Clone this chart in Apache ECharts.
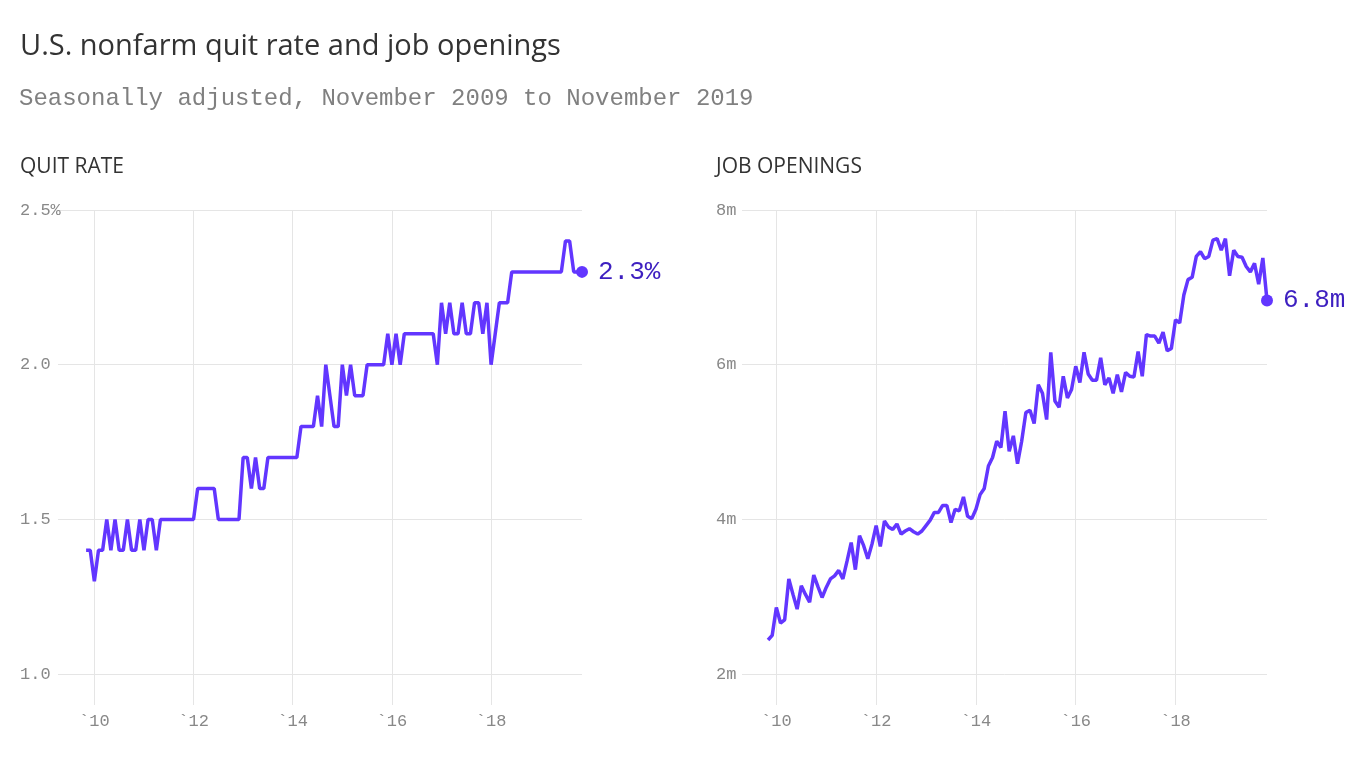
<!DOCTYPE html>
<html>
<head>
<meta charset="utf-8">
<script src="https://cdn.jsdelivr.net/npm/echarts@6/dist/echarts.min.js"></script>
<style>
  html, body { margin: 0; padding: 0; background: #fff; }
  #chart { width: 1366px; height: 768px; }
</style>
</head>
<body>
<div id="chart"></div>
<script>
// months counted from November 2009 (index 0) to November 2019 (index 120)
var xTickMonths = [2, 26, 50, 74, 98];
var xTickLabels = ['`10', '`12', '`14', '`16', '`18'];

var quitTicks = [1.0, 1.5, 2.0, 2.5];
var jobTicks = [2, 4, 6, 8];

// quit rate, %
var quitRate = [
  1.4, 1.4, 1.3, 1.4, 1.4, 1.5, 1.4, 1.5, 1.4, 1.4,
  1.5, 1.4, 1.4, 1.5, 1.4, 1.5, 1.5, 1.4, 1.5, 1.5,
  1.5, 1.5, 1.5, 1.5, 1.5, 1.5, 1.5, 1.6, 1.6, 1.6,
  1.6, 1.6, 1.5, 1.5, 1.5, 1.5, 1.5, 1.5, 1.7, 1.7,
  1.6, 1.7, 1.6, 1.6, 1.7, 1.7, 1.7, 1.7, 1.7, 1.7,
  1.7, 1.7, 1.8, 1.8, 1.8, 1.8, 1.9, 1.8, 2.0, 1.9,
  1.8, 1.8, 2.0, 1.9, 2.0, 1.9, 1.9, 1.9, 2.0, 2.0,
  2.0, 2.0, 2.0, 2.1, 2.0, 2.1, 2.0, 2.1, 2.1, 2.1,
  2.1, 2.1, 2.1, 2.1, 2.1, 2.0, 2.2, 2.1, 2.2, 2.1,
  2.1, 2.2, 2.1, 2.1, 2.2, 2.2, 2.1, 2.2, 2.0, 2.1,
  2.2, 2.2, 2.2, 2.3, 2.3, 2.3, 2.3, 2.3, 2.3, 2.3,
  2.3, 2.3, 2.3, 2.3, 2.3, 2.3, 2.4, 2.4, 2.3, 2.3,
  2.3
];

// job openings, millions
var jobOpenings = [
  2.44, 2.50, 2.86, 2.66, 2.70, 3.23, 3.03, 2.84, 3.14, 3.03,
  2.93, 3.28, 3.13, 2.99, 3.12, 3.23, 3.27, 3.34, 3.23, 3.46,
  3.70, 3.35, 3.79, 3.66, 3.49, 3.68, 3.92, 3.65, 3.98, 3.90,
  3.87, 3.94, 3.81, 3.85, 3.88, 3.84, 3.81, 3.85, 3.92, 3.99,
  4.09, 4.09, 4.18, 4.18, 3.96, 4.13, 4.11, 4.29, 4.04, 4.01,
  4.13, 4.32, 4.40, 4.69, 4.80, 5.01, 4.93, 5.40, 4.88, 5.08,
  4.72, 5.01, 5.38, 5.41, 5.24, 5.74, 5.63, 5.29, 6.16, 5.53,
  5.45, 5.85, 5.57, 5.68, 5.98, 5.77, 6.16, 5.88, 5.80, 5.80,
  6.09, 5.74, 5.83, 5.63, 5.87, 5.65, 5.90, 5.85, 5.84, 6.17,
  5.85, 6.39, 6.37, 6.37, 6.28, 6.42, 6.18, 6.21, 6.58, 6.54,
  6.90, 7.10, 7.13, 7.40, 7.46, 7.37, 7.40, 7.61, 7.63, 7.48,
  7.63, 7.15, 7.48, 7.40, 7.39, 7.27, 7.20, 7.31, 7.04, 7.38,
  6.83
];

var lineColor = '#6236ff';
var endColor = '#3d1fc0';
var gridColor = '#e5e5e5';
var mono = 'Liberation Mono';

function pairs(arr) {
  return arr.map(function (v, i) { return [i, v]; });
}

function xAxisFor(gridIndex, min) {
  return {
    type: 'value',
    gridIndex: gridIndex,
    min: min,
    max: 120,
    axisLine: { show: false },
    axisTick: { show: false, customValues: xTickMonths },
    axisLabel: {
      customValues: xTickMonths,
      formatter: function (v) { return xTickLabels[xTickMonths.indexOf(v)]; },
      color: '#888',
      fontFamily: mono,
      fontSize: 17,
      margin: 8
    },
    splitLine: { show: true, lineStyle: { color: gridColor, width: 1 } }
  };
}

function yAxisFor(gridIndex, min, max, ticks, fmt, margin) {
  return {
    type: 'value',
    gridIndex: gridIndex,
    min: min,
    max: max,
    axisLine: { show: false },
    axisTick: { show: false, customValues: ticks },
    axisLabel: {
      customValues: ticks,
      formatter: fmt,
      align: 'left',
      margin: margin,
      padding: [3, 0, 0, 0],
      color: '#888',
      fontFamily: mono,
      fontSize: 17
    },
    splitLine: { show: true, lineStyle: { color: gridColor, width: 1 } }
  };
}

function endPoint(idx, arr, fmt) {
  return {
    type: 'scatter',
    xAxisIndex: idx,
    yAxisIndex: idx,
    data: [[arr.length - 1, arr[arr.length - 1]]],
    symbolSize: 12,
    itemStyle: { color: lineColor, opacity: 1 },
    label: {
      show: true,
      position: 'right',
      distance: 10,
      padding: [3, 0, 0, 0],
      formatter: fmt,
      fontFamily: mono,
      fontSize: 26,
      color: endColor
    },
    silent: true,
    z: 5
  };
}

var chart = echarts.init(document.getElementById('chart'));

var option = {
  animation: false,
  backgroundColor: '#fff',
  title: [
    {
      text: 'U.S. nonfarm quit rate and job openings',
      left: 20, top: 32, padding: 0,
      textStyle: { fontFamily: 'Open Sans', fontSize: 29, fontWeight: 500, color: '#333' }
    },
    {
      text: 'Seasonally adjusted, November 2009 to November 2019',
      left: 19, top: 87, padding: 0,
      textStyle: { fontFamily: mono, fontSize: 24, fontWeight: 'normal', color: '#808080' }
    },
    {
      text: 'QUIT RATE',
      left: 20, top: 157, padding: 0,
      textStyle: { fontFamily: 'Open Sans', fontSize: 21, fontWeight: 500, color: '#333' }
    },
    {
      text: 'JOB OPENINGS',
      left: 716, top: 157, padding: 0,
      textStyle: { fontFamily: 'Open Sans', fontSize: 21, fontWeight: 500, color: '#333' }
    }
  ],
  grid: [
    { left: 58, right: 784, top: 210, bottom: 63 },
    { left: 742, right: 99, top: 210, bottom: 63 }
  ],
  xAxis: [
    xAxisFor(0, -6.8),
    xAxisFor(1, -6.26)
  ],
  yAxis: [
    yAxisFor(0, 0.9, 2.5, quitTicks, function (v) {
      return v === 2.5 ? v.toFixed(1) + '%' : v.toFixed(1);
    }, 38),
    yAxisFor(1, 1.6, 8, jobTicks, function (v) { return v + 'm'; }, 26)
  ],
  series: [
    {
      type: 'line',
      xAxisIndex: 0,
      yAxisIndex: 0,
      data: pairs(quitRate),
      showSymbol: false,
      lineStyle: { color: lineColor, width: 3.5 },
      silent: true
    },
    endPoint(0, quitRate, function (p) { return p.value[1].toFixed(1) + '%'; }),
    {
      type: 'line',
      xAxisIndex: 1,
      yAxisIndex: 1,
      data: pairs(jobOpenings),
      showSymbol: false,
      lineStyle: { color: lineColor, width: 3.5 },
      silent: true
    },
    endPoint(1, jobOpenings, function (p) { return p.value[1].toFixed(1) + 'm'; })
  ]
};

chart.setOption(option);
</script>
</body>
</html>
